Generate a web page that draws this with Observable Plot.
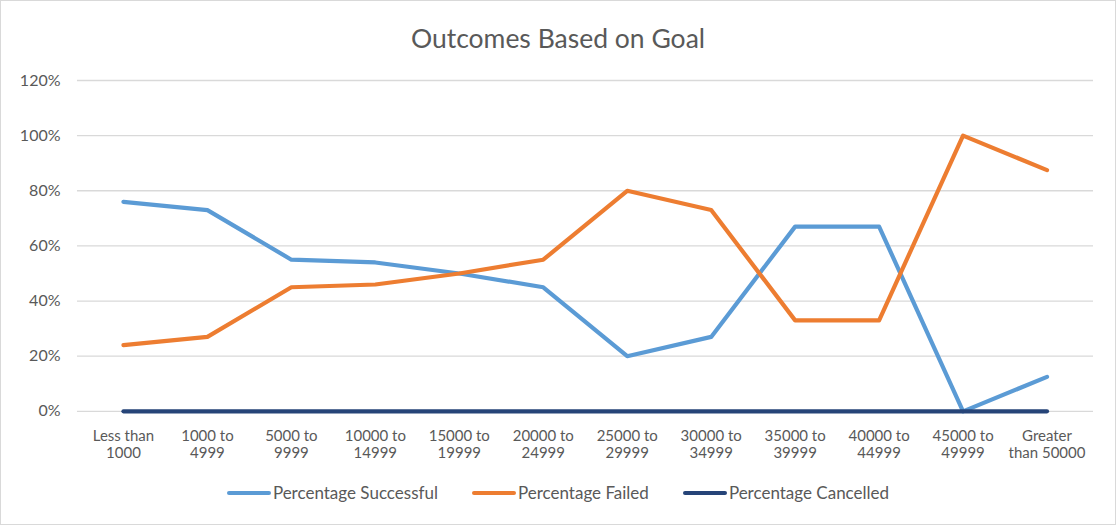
<!DOCTYPE html>
<html>
<head>
<meta charset="utf-8">
<script src="https://cdn.jsdelivr.net/npm/d3@7"></script>
<script src="https://cdn.jsdelivr.net/npm/@observablehq/plot@0.6"></script>
<style>
  html, body { margin: 0; padding: 0; background: #fff; }
  #chart {
    position: relative; width: 1116px; height: 525px; box-sizing: border-box;
    border: 1.5px solid #d9d9d9; font-family: Lato, "Open Sans", sans-serif; color: #595959;
    overflow: hidden;
  }
  #title { position: absolute; left: 0; right: 0; top: 21px; text-align: center; font-size: 26.5px; line-height: 32px; }
  #plot { position: absolute; left: -1.5px; top: 58.5px; }
  #legend { position: absolute; left: 0; right: 0; top: 481px; display: flex; justify-content: center; gap: 34px; font-size: 17px; line-height: 22px; }
  .item { display: flex; align-items: center; }
  .sw { width: 44px; height: 4px; border-radius: 2px; margin-right: 2px; }
</style>
</head>
<body>
<div id="chart">
  <div id="title">Outcomes Based on Goal</div>
  <div id="plot"></div>
  <div id="legend"></div>
</div>
<script>
const categories = ["Less than\n1000", "1000 to\n4999", "5000 to\n9999", "10000 to\n14999", "15000 to\n19999", "20000 to\n24999", "25000 to\n29999", "30000 to\n34999", "35000 to\n39999", "40000 to\n44999", "45000 to\n49999", "Greater\nthan 50000"];
const successful = [0.76, 0.73, 0.55, 0.54, 0.50, 0.45, 0.20, 0.27, 0.67, 0.67, 0.00, 0.125];
const failed =     [0.24, 0.27, 0.45, 0.46, 0.50, 0.55, 0.80, 0.73, 0.33, 0.33, 1.00, 0.875];
const cancelled =  [0, 0, 0, 0, 0, 0, 0, 0, 0, 0, 0, 0];
const seriesNames = ["Percentage Successful", "Percentage Failed", "Percentage Cancelled"];
const seriesColors = ["#5B9BD5", "#ED7D31", "#264478"];
const yTicks = [0, 0.2, 0.4, 0.6, 0.8, 1.0, 1.2];

const seriesValues = [successful, failed, cancelled];
const rows = [];
seriesValues.forEach((vals, s) => vals.forEach((v, i) => rows.push({cat: categories[i], value: v, series: seriesNames[s]})));

const plot = Plot.plot({
  width: 1116,
  height: 406,
  marginLeft: 77,
  marginRight: 22.5,
  marginTop: 20,
  marginBottom: 55,
  style: {fontFamily: "Lato, 'Open Sans', sans-serif", fontSize: "15px", color: "#595959", background: "transparent"},
  x: {type: "point", domain: categories, padding: 0.5, label: null},
  y: {domain: [0, 1.2], label: null},
  color: {domain: seriesNames, range: seriesColors},
  marks: [
    Plot.gridY(yTicks, {stroke: "#d9d9d9", strokeOpacity: 1, strokeWidth: 1.3}),
    Plot.axisY(yTicks, {tickSize: 0, tickPadding: 17, tickFormat: d => Math.round(d * 100) + "%", fill: "#595959", fontSize: 16, label: null}),
    Plot.axisX({tickSize: 0, tickPadding: 17, fill: "#595959", fontSize: 15, lineHeight: 1.15, label: null}),
    Plot.line(rows, {x: "cat", y: "value", z: "series", stroke: "series", strokeWidth: 4.2, strokeLinejoin: "round", strokeLinecap: "round"})
  ]
});
document.getElementById("plot").appendChild(plot);

const legend = document.getElementById("legend");
seriesNames.forEach((n, i) => {
  const it = document.createElement("div");
  it.className = "item";
  const sw = document.createElement("span");
  sw.className = "sw";
  sw.style.background = seriesColors[i];
  const t = document.createElement("span");
  t.textContent = n;
  it.appendChild(sw); it.appendChild(t);
  legend.appendChild(it);
});
</script>
</body>
</html>
